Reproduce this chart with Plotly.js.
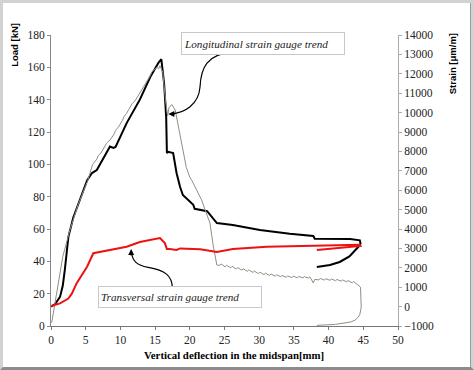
<!DOCTYPE html>
<html>
<head>
<meta charset="utf-8">
<script src="https://cdn.plot.ly/plotly-3.0.1.min.js"></script>
<style>
  html, body { margin: 0; padding: 0; background: #fff; }
  #wrap { position: relative; width: 474px; height: 370px; }
  #chart { position: absolute; left: 0; top: 0; width: 474px; height: 370px; }
  #frame { position: absolute; left: 0; top: 0; width: 474px; height: 370px; box-sizing: border-box;
           border-top: 3px solid #d2d2d2; border-left: 3px solid #d2d2d2; border-right: 3px solid #d2d2d2; border-bottom: 3px solid #8c8c8c;
           pointer-events: none; }
  #inner { position: absolute; right: 3px; top: 3px; width: 1px; height: 364px; background: #9a9a9a; pointer-events: none; }
</style>
</head>
<body>
<div id="wrap">
  <div id="chart"></div>
  <div id="frame"></div>
  <div id="inner"></div>
</div>
<script>
// Load vs vertical deflection (left axis, kN)
const loadX = [0, 0.6, 1.3, 1.7, 2.0, 2.5, 3.2, 4.2, 5.2, 5.9, 6.6, 8.5, 9.0, 9.3, 10.9, 12.8, 14.3, 15.5, 15.9, 16.3, 16.6, 16.7, 16.9, 17.6, 18.1, 18.6, 19.0, 20.5, 20.7, 22.5, 23.9, 26.2, 30.1, 34.4, 37.8, 38.0, 40.5, 43.1, 44.5, 44.6, 44.3, 43.0, 41.6, 40.2, 38.3];
const loadY = [12, 13.6, 18, 25, 35, 55, 67, 78, 90, 94.6, 96.5, 111, 110.2, 110.7, 125.5, 140, 154, 163, 165, 150, 129, 107, 107.7, 107, 94.5, 86, 81, 75, 72.5, 71, 63.7, 62.5, 59.4, 57, 55.7, 54, 54, 53.8, 53, 51, 49, 43, 39.6, 37.7, 36.5];

// Transversal strain gauge (right axis, µm/m)
const transX = [0, 1.3, 2.5, 3.0, 3.7, 5.2, 6.1, 8.5, 10.9, 12.8, 15.0, 15.7, 16.4, 16.7, 17.1, 18.1, 18.6, 21.5, 23.9, 26.2, 31.1, 35.9, 40.6, 44.5, 44.6, 41.0, 38.3];
const transS = [33, 167, 417, 667, 1208, 2058, 2750, 2917, 3083, 3333, 3483, 3533, 3275, 2967, 2967, 2917, 3000, 2958, 2817, 2967, 3083, 3125, 3167, 3183, 3125, 3017, 2917];

// Longitudinal strain gauge (right axis, µm/m)
const longX = [0.1, 0.8, 1.7, 2.7, 3.9, 5.3, 6.0, 6.6, 6.8, 7.2, 7.8, 8.0, 8.5, 9.1, 9.3, 9.7, 10.3, 10.5, 10.9, 11.5, 11.7, 12.1, 12.8, 13.3, 13.5, 13.8, 14.3, 14.5, 14.7, 15.3, 15.5, 15.7, 16.1, 16.5, 16.8, 17.0, 17.4, 17.9, 18.3, 18.8, 19.5, 20.0, 20.3, 21.0, 21.7, 22.2, 22.9, 23.4, 23.9,
  24.3, 24.5, 25.1, 25.3, 25.9, 26.1, 26.7, 26.9, 27.5, 27.7, 28.3, 28.5, 29.1, 29.3, 29.9, 30.1, 30.7, 30.9, 31.5, 31.7, 32.3, 32.5, 33.1, 33.3, 33.9, 34.1, 34.7, 34.9, 35.5, 35.7, 36.3, 36.5, 37.1, 37.3, 37.8, 38.0, 38.6, 38.8, 39.4, 39.6, 40.2, 40.4, 41.0, 41.2, 41.8, 42.0, 42.6, 42.8, 43.4, 43.6, 44.2, 44.6, 44.7, 44.5, 44.3, 43.8, 43.2, 42.0, 41.0, 38.3];
const longS = [-833, 667, 2583, 3917, 5250, 6500, 7333, 7600, 7780, 7917, 8250, 8420, 8583, 8900, 9080, 9250, 9600, 9780, 9967, 10300, 10470, 10600, 11000, 11300, 11470, 11583, 11900, 12080, 12167, 12333, 12250, 12417, 12083, 10667, 9833, 10250, 10417, 10133, 9417, 8583, 7167, 6667, 6500, 6000, 5500, 5000, 4308, 3083, 2142,
  2125, 2200, 2050, 2130, 2000, 2075, 1940, 2010, 1880, 1950, 1820, 1890, 1760, 1830, 1700, 1770, 1650, 1720, 1610, 1680, 1570, 1640, 1540, 1605, 1510, 1580, 1495, 1565, 1490, 1555, 1480, 1545, 1470, 1530, 1220, 1400, 1380, 1450, 1370, 1435, 1355, 1420, 1335, 1400, 1310, 1375, 1280, 1340, 1230, 1290, 1120, 1000, -25, -400, -533, -700, -792, -880, -917, -967];

const xTickVals = [0, 5, 10, 15, 20, 25, 30, 35, 40, 45, 50];

const serif = "Liberation Serif";
const sans = "Liberation Sans";

const traces = [
  { x: longX, y: longS, yaxis: 'y2', type: 'scatter', mode: 'lines', line: { color: '#8f8f80', width: 1 }, hoverinfo: 'skip' },
  { x: transX, y: transS, yaxis: 'y2', type: 'scatter', mode: 'lines', line: { color: '#ee1111', width: 2 }, hoverinfo: 'skip' },
  { x: loadX, y: loadY, type: 'scatter', mode: 'lines', line: { color: '#000000', width: 2 }, hoverinfo: 'skip' }
];

const layout = {
  width: 474, height: 370,
  margin: { l: 51, r: 76, t: 35, b: 44 },
  paper_bgcolor: '#ffffff', plot_bgcolor: '#ffffff',
  showlegend: false,
  font: { family: serif, size: 11.5, color: '#222' },
  xaxis: {
    range: [0, 50], tickvals: xTickVals, ticks: 'outside', ticklen: 3, tickcolor: '#777',
    showline: true, linecolor: '#777', linewidth: 1, showgrid: false, zeroline: false,
    tickfont: { family: serif, size: 11.5, color: '#222' }
  },
  yaxis: {
    range: [0, 180], dtick: 20, ticks: 'outside', ticklen: 3, tickcolor: '#888',
    showline: true, linecolor: '#888', linewidth: 1, showgrid: false, zeroline: false,
    tickfont: { family: serif, size: 11.5, color: '#222' }
  },
  yaxis2: {
    overlaying: 'y', side: 'right', range: [-1000, 14000], dtick: 1000, tickformat: 'd',
    ticks: 'outside', ticklen: 3, tickcolor: '#aaa', showline: true, linecolor: '#aaa', linewidth: 1,
    showgrid: false, zeroline: false,
    tickfont: { family: serif, size: 11.5, color: '#222' }
  },
  shapes: [
    { type: 'path', xref: 'x', yref: 'y', path: 'M 26.08,169.4 C 22.5,168 21.6,160 21.47,147.8 C 21.3,137 19.2,131.6 17.3,131.2', line: { color: '#000', width: 1.2 } },
    { type: 'path', xref: 'x', yref: 'y', path: 'M 17.5,23.8 C 17.4,31 16.5,34.5 14.0,36.3 C 12.3,37.6 11.7,40.5 11.6,45.8', line: { color: '#000', width: 1.2 } }
  ],
  annotations: [
    { xref: 'paper', yref: 'paper', x: -0.104, y: 0.966, xanchor: 'center', yanchor: 'middle', text: '<b>Load [kN]</b>', textangle: -90, showarrow: false,
      font: { family: sans, size: 9.5, color: '#000' } },
    { xref: 'paper', yref: 'paper', x: 1.156, y: 0.900, xanchor: 'center', yanchor: 'middle', text: '<b>Strain [μm/m]</b>', textangle: -90, showarrow: false,
      font: { family: sans, size: 9.5, color: '#000' } },
    { xref: 'paper', yref: 'paper', x: 0.527, y: -0.0997, xanchor: 'center', yanchor: 'middle', text: '<b>Vertical deflection in the midspan[mm]</b>', showarrow: false,
      font: { family: serif, size: 10.8, color: '#000' } },
    { xref: 'x', yref: 'y', x: 30.6, y: 174.7, xanchor: 'center', yanchor: 'middle', text: '<i>Longitudinal strain gauge trend</i>', showarrow: false,
      width: 158, height: 17, align: 'left', bordercolor: '#c8c8c8', borderwidth: 1, borderpad: 2, bgcolor: '#fff',
      font: { family: serif, size: 11.2, color: '#222' } },
    { xref: 'x', yref: 'y', x: 18.6, y: 17.9, xanchor: 'center', yanchor: 'middle', text: '<i>Transversal strain gauge trend</i>', showarrow: false,
      width: 158, height: 16, align: 'left', bordercolor: '#c8c8c8', borderwidth: 1, borderpad: 2, bgcolor: '#fff',
      font: { family: serif, size: 11.2, color: '#222' } },
    { xref: 'x', yref: 'y', x: 16.9, y: 131.1, text: '', showarrow: true, ax: 8, ay: 0, arrowhead: 2, arrowsize: 1, arrowwidth: 1.2, arrowcolor: '#000' },
    { xref: 'x', yref: 'y', x: 11.55, y: 47.6, text: '', showarrow: true, ax: 0, ay: 8, arrowhead: 2, arrowsize: 1, arrowwidth: 1.2, arrowcolor: '#000' }
  ]
};

Plotly.newPlot('chart', traces, layout, { staticPlot: true, displayModeBar: false });
</script>
</body>
</html>
